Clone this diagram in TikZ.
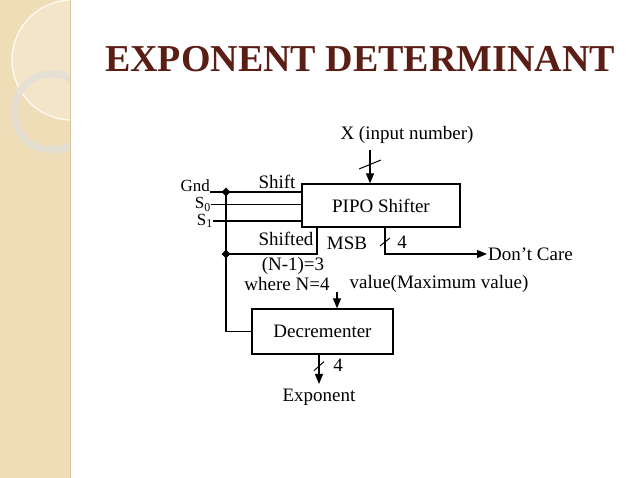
\documentclass[tikz,border=0pt]{standalone}
\usepackage{fontspec}
\setmainfont{Liberation Serif}
\usetikzlibrary{arrows.meta,shapes.geometric}
\definecolor{stripe}{HTML}{EFDDB8}
\definecolor{stripeedge}{HTML}{D9C6A0}
\definecolor{ring}{HTML}{E4E0D6}
\definecolor{titlebrown}{HTML}{5A1E15}
\newcommand{\dgfont}{\fontsize{19}{21}\selectfont}
\tikzset{>/.tip={Triangle[length=10pt,width=8pt]},
  blk/.style={draw, line width=1.3pt, inner sep=0pt, font=\dgfont},
  lbl/.style={inner sep=1pt, font=\dgfont},
  pinlbl/.style={anchor=east, inner sep=0pt, font=\fontsize{17}{19}\selectfont},
  wire/.style={line width=1.1pt},
  busmark/.style={line width=1pt},
  jdot/.style={diamond, fill, inner sep=0pt, minimum size=9pt}}

\begin{document}
\begin{tikzpicture}[x=1pt, y=-1pt]
\useasboundingbox (0,0) rectangle (638,478);
\fill[white] (0,0) rectangle (638,478);
% slide stripe
\fill[stripe] (0,0) rectangle (70,478);
\draw[stripeedge, line width=1pt] (70,0) -- (70,478);
\begin{scope}
\clip (0,0) rectangle (70,478);
\fill[white, opacity=0.25] (72,60) circle (60);
\draw[white!85!stripe, line width=1.3pt] (72,60) circle (60);
\draw[ring, line width=7pt, opacity=0.9] (52,112) circle (38);
\end{scope}

\node[font=\fontsize{38}{40}\selectfont\bfseries, text=titlebrown] (title) at (360,59) {EXPONENT DETERMINANT};

% blocks
\node[blk, minimum width=158pt, minimum height=43pt] (pipo) at (381,205.5) {PIPO Shifter};
\node[blk, minimum width=141pt, minimum height=45pt] (decr) at (322.5,331.5) {Decrementer};

% labels
\node[lbl] (inX) at (407,135) {X (input number)};
\node[pinlbl] (gnd) at (210,185.5) {Gnd};
\node[pinlbl] (szero) at (211,204.5) {S\textsubscript{0}};
\node[pinlbl] (sone) at (213,221) {S\textsubscript{1}};
\node[lbl] (shiftlbl) at (277,182) {Shift};
\node[lbl] (shiftedlbl) at (286,239) {Shifted};
\node[lbl] (msblbl) at (347,243) {MSB};
\node[lbl] (msbw) at (402,242) {4};
\node[lbl, anchor=west] (dontcare) at (487,254) {Don't Care};
\node[lbl] (nmone) at (293,266) {(N-1)=3};
\node[lbl] (wheren) at (287,284) {where N=4};
\node[lbl] (maxval) at (439,284) {value(Maximum value)};
\node[lbl] (decw) at (338,365) {4};
\node[lbl, anchor=north, inner ysep=5pt] (expo) at (319,384) {Exponent};

\coordinate (xin) at (370,150);
\coordinate (jtop) at (226,192);
\coordinate (jbot) at (226,254);
\coordinate (fb) at (317,254);
\coordinate (msbc) at (385,254);
\coordinate (maxin) at (337,292);
\coordinate (dout) at (decr.south -| expo.north);

% connectors
\draw[wire, ->] (xin) -- (xin |- pipo.north);
\draw[wire] (gnd.east |- jtop) -- (jtop -| pipo.west);
\draw[wire] (szero.east) -- (szero.east -| pipo.west);
\draw[wire] (sone.east) -- (sone.east -| pipo.west);
\draw[wire] (jtop) -- (jtop |- decr.west) -- (decr.west);
\draw[wire] (jbot) -- (fb) -- (fb |- pipo.south);
\draw[wire, ->] (msbc |- pipo.south) -- (msbc) -- (dontcare.west);
\draw[wire, ->] (maxin) -- (maxin |- decr.north);
\draw[wire, ->] (dout) -- (expo.north);
\node[jdot] at (jtop) {};
\node[jdot] at (jbot) {};

% bus width marks
\draw[busmark] ([shift={(-11,19)}]xin) -- ++(22,-9);
\draw[busmark] ([shift={(-5,-8)}]msbc) -- ++(10,-8);
\draw[busmark] ([shift={(-5,16)}]dout) -- ++(10,-9);
\end{tikzpicture}
\end{document}
